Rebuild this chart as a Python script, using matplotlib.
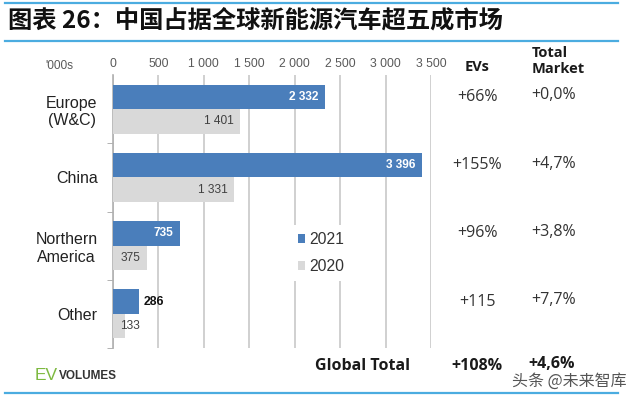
import numpy as np
import matplotlib
matplotlib.use("Agg")
import matplotlib.pyplot as plt
from matplotlib import transforms
from matplotlib.lines import Line2D

plt.rcParams['font.family'] = ['Liberation Sans', 'DejaVu Sans']

# data
regions = ["Europe\n(W&C)", "China", "Northern\nAmerica", "Other"]
ev2021 = [2332, 3396, 735, 286]
ev2020 = [1401, 1331, 375, 133]
ev_growth = ["+66%", "+155%", "+96%", "+115"]
market_growth = ["+0,0%", "+4,7%", "+3,8%", "+7,7%"]
global_ev = "+108%"
global_market = "+4,6%"
xticks = [0, 500, 1000, 1500, 2000, 2500, 3000, 3500]

W, H = 640, 399
blue = "#4A7EBB"
grey = "#D9D9D9"
line_blue = "#4BACE0"

def fx(px):
    return px / W

def fy(py):
    return 1 - py / H

def fmt(v):
    return f"{v:,}".replace(",", " ")

fig = plt.figure(figsize=(6.4, 3.99), dpi=100)
fig.patch.set_facecolor("white")

# header / footer rules
for py in (3, 41, 393):
    fig.add_artist(Line2D([fx(5), fx(618)], [fy(py), fy(py)], transform=fig.transFigure,
                          color=line_blue, lw=1.6))

fig.text(fx(8), fy(21), "图表 26：中国占据全球新能源汽车超五成市场", fontsize=17.5,
         fontweight="bold", family=["Noto Sans CJK SC", "DejaVu Sans"], color="#111111",
         va="center", ha="left")

ax = fig.add_axes([fx(113), fy(348), fx(431) - fx(113), fy(75) - fy(348)])
y = np.arange(len(regions))
h = 0.36
b1 = ax.barh(y - h / 2, ev2021, height=h, color=blue, label="2021", zorder=3)
b2 = ax.barh(y + h / 2, ev2020, height=h, color=grey, label="2020", zorder=3)

ax.set_xlim(0, 3500)
ax.set_ylim(3.5, -0.5)
ax.xaxis.tick_top()
ax.set_xticks(xticks, [fmt(t) for t in xticks])
ax.tick_params(axis="x", length=0, pad=3.5, labelsize=8.8, labelcolor="#595959")
ax.set_yticks(y, regions)
ax.tick_params(axis="y", which="major", length=0, pad=11, labelsize=11.5, labelcolor="#222222")
for lbl in ax.get_yticklabels():
    lbl.set_multialignment("center")
ax.set_yticks([0.5, 1.5, 2.5, 3.5], minor=True)
ax.tick_params(axis="y", which="minor", length=4, color="#A6A6A6", direction="out")
ax.grid(axis="x", color="#C8C8C8", lw=1.2, zorder=0)
for s in ("top", "right", "bottom"):
    ax.spines[s].set_visible(False)
ax.spines["left"].set_color("#B0B0B0")
ax.spines["left"].set_linewidth(1.2)

fig.text(fx(45), fy(66), "'000s", ha="left", va="center", fontsize=8.6, color="#595959")

# bar labels
for i, v in enumerate(ev2021):
    if v > 500:
        ax.annotate(fmt(v), (v, y[i] - h / 2), xytext=(-4.5, 0), textcoords="offset points",
                    ha="right", va="center", color="white", fontweight="bold", fontsize=8.6, zorder=4)
    else:
        ax.annotate(fmt(v), (v, y[i] - h / 2), xytext=(3.5, 0), textcoords="offset points",
                    ha="left", va="center", color="#111111", fontweight="bold", fontsize=8.8, zorder=4)
for i, v in enumerate(ev2020):
    if v > 200:
        ax.annotate(fmt(v), (v, y[i] + h / 2), xytext=(-4.5, 0), textcoords="offset points",
                    ha="right", va="center", color="#404040", fontsize=8.6, zorder=4)
    else:
        ax.annotate(fmt(v), (0, y[i] + h / 2), xytext=(5, 0), textcoords="offset points",
                    ha="left", va="center", color="#404040", fontsize=8.6, zorder=4)

leg = ax.legend(handles=[b1, b2], loc="center", bbox_to_anchor=(fx(321), fy(253)),
                bbox_transform=fig.transFigure, frameon=True, fontsize=11.3,
                handlelength=0.45, handleheight=0.45, handletextpad=0.3,
                labelspacing=0.75, borderpad=0.45, fancybox=False)
leg.get_frame().set_facecolor("white")
leg.get_frame().set_edgecolor("none")
leg.get_frame().set_alpha(1)
for t in leg.get_texts():
    t.set_color("#333333")

# growth columns
tr = transforms.blended_transform_factory(fig.transFigure, ax.transData)
col = ["Open Sans", "DejaVu Sans"]
fig.text(fx(477), fy(67), "EVs", ha="center", va="center", fontsize=10.5,
         fontweight="bold", family=col, color="#1a1a1a")
fig.text(fx(532), fy(61), "Total\nMarket", ha="left", va="center", fontsize=10.5,
         fontweight="bold", family=col, color="#1a1a1a", linespacing=1.1)
for i in range(len(regions)):
    fig.text(fx(477), y[i] - 0.18, ev_growth[i], transform=tr, ha="center", va="center",
             fontsize=11.5, family=col, color="#333333")
    fig.text(fx(531), y[i] - 0.2, market_growth[i], transform=tr, ha="left", va="center",
             fontsize=11.5, family=col, color="#333333")

fig.text(fx(315), fy(366), "Global Total", ha="left", va="center", fontsize=11.5,
         fontweight="bold", family=col, color="#1a1a1a")
fig.text(fx(477), fy(366), global_ev, ha="center", va="center", fontsize=11.5,
         fontweight="bold", family=col, color="#1a1a1a")
fig.text(fx(528), fy(364), global_market, ha="left", va="center", fontsize=11.5,
         fontweight="bold", family=col, color="#1a1a1a")

# source logo + watermark
fig.text(fx(35), fy(375), "EV", ha="left", va="center", fontsize=12.5, color="#7DB940")
fig.text(fx(59), fy(376), "VOLUMES", ha="left", va="center", fontsize=8.5,
         fontweight="bold", color="#333333")
fig.text(fx(512), fy(381), "头条 @未来智库", ha="left", va="center", fontsize=11.5,
         family=["Noto Sans CJK SC", "DejaVu Sans"], color="#555555")

fig.savefig("out.png", dpi=100)
